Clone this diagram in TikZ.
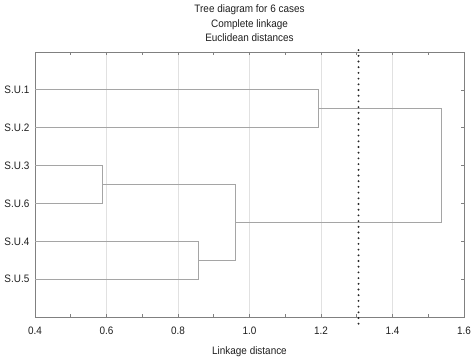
\documentclass[tikz,border=0pt]{standalone}
\usepackage{fontspec}
\setmainfont{Liberation Sans}[FakeStretch=0.92]
\usepackage{xcolor}
\usepackage{tikz}
\usetikzlibrary{positioning, calc}
\definecolor{framecolor}{RGB}{128, 128, 128}
\definecolor{treecolor}{RGB}{165, 165, 165}
\definecolor{gridcolor}{RGB}{225, 225, 225}
\definecolor{textcolor}{RGB}{30, 30, 30}

\begin{document}
\begin{tikzpicture}[x=357.5pt, y=-37.86pt,
        every node/.style={inner sep=0pt, font=\fontsize{10.8}{13}\selectfont, text=textcolor},
        frameline/.style={framecolor, line width=0.8pt},
        gridline/.style={gridcolor, line width=0.5pt},
        tickline/.style={framecolor, line width=0.6pt},
        treeline/.style={treecolor, line width=0.9pt},
        cutline/.style={black!85, line width=2.1pt, line cap=round, dash pattern=on 0pt off 5.7pt}]
        \useasboundingbox (0.30210, -1.37348) rectangle (1.62797, 8.1352);

        % Title
        \node[anchor=base] (title1) at (1.0, -1.037) {Tree diagram for 6 cases};
        \node[anchor=base] (title2) at (1.0, -0.660) {Complete linkage};
        \node[anchor=base] (title3) at (1.0, -0.272) {Euclidean distances};

        % Grid
        \draw[gridline] (0.6, 0) -- (0.6, 7) (0.8, 0) -- (0.8, 7) (1.0, 0) -- (1.0, 7) (1.2, 0) -- (1.2, 7) (1.4, 0) -- (1.4, 7);

        % Frame
        \draw[frameline] (0.4, 0) rectangle (1.6, 7);

        % Ticks
        \draw[tickline] (0.5, 0) -- ++(0, 0.08) (0.6, 0) -- ++(0, 0.08) (0.7, 0) -- ++(0, 0.08) (0.8, 0) -- ++(0, 0.08)
            (0.9, 0) -- ++(0, 0.08) (1.0, 0) -- ++(0, 0.08) (1.1, 0) -- ++(0, 0.08) (1.2, 0) -- ++(0, 0.08)
            (1.3, 0) -- ++(0, 0.08) (1.4, 0) -- ++(0, 0.08) (1.5, 0) -- ++(0, 0.08);
        \draw[tickline] (0.5, 7) -- ++(0, -0.08) (0.6, 7) -- ++(0, -0.08) (0.7, 7) -- ++(0, -0.08) (0.8, 7) -- ++(0, -0.08)
            (0.9, 7) -- ++(0, -0.08) (1.0, 7) -- ++(0, -0.08) (1.1, 7) -- ++(0, -0.08) (1.2, 7) -- ++(0, -0.08)
            (1.3, 7) -- ++(0, -0.08) (1.4, 7) -- ++(0, -0.08) (1.5, 7) -- ++(0, -0.08);
        \draw[tickline] (1.6, 1) -- ++(-0.0085, 0) (1.6, 2) -- ++(-0.0085, 0) (1.6, 3) -- ++(-0.0085, 0)
            (1.6, 4) -- ++(-0.0085, 0) (1.6, 5) -- ++(-0.0085, 0) (1.6, 6) -- ++(-0.0085, 0);

        % Axis labels
        \node[anchor=base] (x04) at (0.4, 7.4567) {0.4};
        \node[anchor=base] (x06) at (0.6, 7.4567) {0.6};
        \node[anchor=base] (x08) at (0.8, 7.4567) {0.8};
        \node[anchor=base] (x10) at (1.0, 7.4567) {1.0};
        \node[anchor=base] (x12) at (1.2, 7.4567) {1.2};
        \node[anchor=base] (x14) at (1.4, 7.4567) {1.4};
        \node[anchor=base] (x16) at (1.6, 7.4567) {1.6};
        \node[anchor=base] (xlabel) at (1.0, 7.990) {Linkage distance};

        % Cases
        \coordinate (c1) at (0.4, 1);
        \coordinate (c2) at (0.4, 2);
        \coordinate (c3) at (0.4, 3);
        \coordinate (c6) at (0.4, 4);
        \coordinate (c4) at (0.4, 5);
        \coordinate (c5) at (0.4, 6);
        \node[left=5.5pt of c1] (su1) {S.U.1};
        \node[left=5.5pt of c2] (su2) {S.U.2};
        \node[left=5.5pt of c3] (su3) {S.U.3};
        \node[left=5.5pt of c6] (su6) {S.U.6};
        \node[left=5.5pt of c4] (su4) {S.U.4};
        \node[left=5.5pt of c5] (su5) {S.U.5};

        % Joins
        \coordinate (m12) at (1.192, 1.5);
        \coordinate (m36) at (0.588, 3.5);
        \coordinate (m45) at (0.856, 5.5);
        \coordinate (m3645) at (0.962, 4.5);
        \coordinate (mroot) at (1.538, 3);

        % Tree
        \draw[treeline] (c1) -| (m12) |- (c2);
        \draw[treeline] (c3) -| (m36) |- (c6);
        \draw[treeline] (c4) -| (m45) |- (c5);
        \draw[treeline] (m36) -| (m3645) |- (m45);
        \draw[treeline] (m12) -| (mroot) |- (m3645);

        % Cut level
        \coordinate (cuttop) at (1.305, -0.05);
        \coordinate (cutbottom) at (1.305, 7.18);
        \draw[cutline] (cuttop) -- (cutbottom);
    \end{tikzpicture}
\end{document}
